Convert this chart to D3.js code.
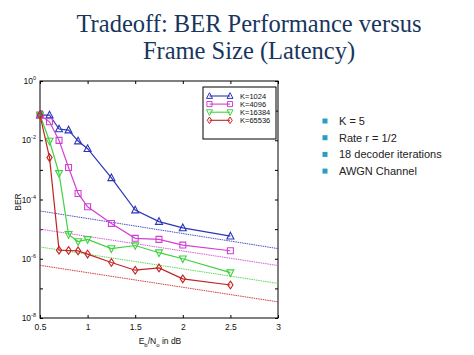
<!DOCTYPE html>
<html>
<head>
<meta charset="utf-8">
<script src="https://cdn.jsdelivr.net/npm/d3@7"></script>
<style>
  html, body { margin: 0; padding: 0; background: #fff; }
  svg { display: block; }
</style>
</head>
<body>
<svg id="chart" width="474" height="355"></svg>
<script>
// ---- data ----
const titleLines = ["Tradeoff: BER Performance versus", "Frame Size (Latency)"];
const bullets = ["K = 5", "Rate r = 1/2", "18 decoder iterations", "AWGN Channel"];
const seriesNames = ["K=1024", "K=4096", "K=16384", "K=65536"];
const seriesColors = ["#2b36b8", "#d23fd2", "#3fd23f", "#c42222"];
const seriesMarkers = ["triUp", "square", "triDown", "diamond"];

const ebno = [0.5, 0.6, 0.7, 0.8, 0.9, 1.0, 1.25, 1.5, 1.75, 2.0, 2.5];
const berK1024  = [7.1e-2, 7.1e-2, 2.4e-2, 2.2e-2, 9.4e-3, 5.2e-3, 5.4e-4, 4.4e-5, 1.8e-5, 1.1e-5, 5.8e-6];
const berK4096  = [7.1e-2, 4.2e-2, 9.9e-3, 1.2e-3, 1.6e-4, 5.7e-5, 1.56e-5, 4.9e-6, 4.5e-6, 2.9e-6, 1.86e-6];
const berK16384 = [7.1e-2, 9.4e-3, 7.6e-4, 6.6e-6, 3.8e-6, 4.5e-6, 2.2e-6, 2.8e-6, 1.6e-6, 1.0e-6, 3.4e-7];
const berK65536 = [7.1e-2, 2.6e-3, 1.95e-6, 1.9e-6, 1.85e-6, 1.44e-6, 7.5e-7, 4.1e-7, 4.9e-7, 2.1e-7, 1.3e-7];
const seriesValues = [berK1024, berK4096, berK16384, berK65536];

// error-floor bound lines (value at Eb/No = 0.5 and at 3)
const boundX = [0.5, 3];
const boundStart = [4.1e-5, 1.0e-5, 2.5e-6, 6.0e-7];
const boundEnd   = [2.2e-6, 5.9e-7, 1.47e-7, 3.5e-8];

const xTicks = [0.5, 1, 1.5, 2, 2.5, 3];
const xTickLabels = ["0.5", "1", "1.5", "2", "2.5", "3"];
const yTicks = [1, 1e-1, 1e-2, 1e-3, 1e-4, 1e-5, 1e-6, 1e-7, 1e-8];
const yLabelExps = [0, -2, -4, -6, -8];

// ---- drawing ----
const svg = d3.select("#chart");
const x = d3.scaleLinear().domain([0.5, 3]).range([40, 278]);
const y = d3.scaleLog().domain([1e-8, 1]).range([318, 81]);

// title
svg.append("g").selectAll("text").data(titleLines).join("text")
  .attr("x", 249).attr("y", (d, i) => 31.5 + i * 27.5)
  .attr("text-anchor", "middle")
  .attr("font-family", "'Liberation Serif', 'Times New Roman', serif")
  .attr("font-size", 24.5)
  .attr("fill", "#17365d")
  .text(d => d);

// bullets
const bg = svg.append("g");
bullets.forEach((b, i) => {
  const cy = 121 + i * 16.7;
  bg.append("rect").attr("x", 322.5).attr("y", cy - 2.5).attr("width", 5).attr("height", 5).attr("fill", "#2a9dc4");
  bg.append("text").attr("x", 339).attr("y", cy + 4)
    .attr("font-family", "'Liberation Sans', Arial, sans-serif")
    .attr("font-size", 11).attr("fill", "#222").text(b);
});

// frame
svg.append("rect").attr("x", 40).attr("y", 81).attr("width", 238).attr("height", 237)
  .attr("fill", "none").attr("stroke", "#000").attr("stroke-width", 1);

const tickFont = "'Liberation Sans', Arial, sans-serif";

// x axes (bottom with labels, top without)
svg.append("g").attr("transform", "translate(0,318)")
  .call(d3.axisBottom(x).tickValues(xTicks).tickSize(-3).tickPadding(6)
    .tickFormat((d, i) => xTickLabels[i]))
  .call(g => g.select(".domain").remove())
  .call(g => g.selectAll("text").attr("font-family", tickFont).attr("font-size", 8.5).attr("fill", "#111"));
svg.append("g").attr("transform", "translate(0,81)")
  .call(d3.axisTop(x).tickValues(xTicks).tickSize(-3).tickFormat(""))
  .call(g => g.select(".domain").remove());

// y axes
svg.append("g").attr("transform", "translate(40,0)")
  .call(d3.axisLeft(y).tickValues(yTicks).tickSize(-3).tickPadding(4).tickFormat(""))
  .call(g => g.select(".domain").remove());
svg.append("g").attr("transform", "translate(278,0)")
  .call(d3.axisRight(y).tickValues(yTicks).tickSize(-3).tickFormat(""))
  .call(g => g.select(".domain").remove());

// y labels 10^n
const yl = svg.append("g");
yLabelExps.forEach(e => {
  const t = yl.append("text").attr("x", 36).attr("y", y(Math.pow(10, e)) + 3)
    .attr("text-anchor", "end").attr("font-family", tickFont).attr("font-size", 8.5).attr("fill", "#111");
  t.append("tspan").text("10");
  t.append("tspan").attr("dy", -4).attr("font-size", 5.5).text(String(e));
});

// axis titles
const xt = svg.append("text").attr("x", 160).attr("y", 344).attr("text-anchor", "middle")
  .attr("font-family", tickFont).attr("font-size", 8.5).attr("fill", "#111");
xt.append("tspan").text("E");
xt.append("tspan").attr("dy", 2.5).attr("font-size", 6).text("b");
xt.append("tspan").attr("dy", -2.5).text("/N");
xt.append("tspan").attr("dy", 2.5).attr("font-size", 6).text("o");
xt.append("tspan").attr("dy", -2.5).text(" in dB");

svg.append("text").attr("transform", "translate(21,202) rotate(-90)").attr("text-anchor", "middle")
  .attr("font-family", tickFont).attr("font-size", 8.5).attr("fill", "#111").text("BER");

// bound lines
const plot = svg.append("g");
seriesValues.forEach((_, i) => {
  plot.append("line")
    .attr("x1", x(boundX[0])).attr("y1", y(boundStart[i]))
    .attr("x2", x(boundX[1])).attr("y2", y(boundEnd[i]))
    .attr("stroke", seriesColors[i]).attr("stroke-width", 1)
    .attr("stroke-opacity", 0.85).attr("stroke-dasharray", "1.5,0.8");
});

// marker shapes
function markerPath(type, s) {
  const h = s / 2;
  switch (type) {
    case "triUp": return `M0,${-h * 1.1}L${h},${h * 0.8}L${-h},${h * 0.8}Z`;
    case "triDown": return `M0,${h * 1.1}L${h},${-h * 0.8}L${-h},${-h * 0.8}Z`;
    case "square": return `M${-h * 0.85},${-h * 0.85}H${h * 0.85}V${h * 0.85}H${-h * 0.85}Z`;
    case "diamond": return `M0,${-h * 1.1}L${h * 0.75},0L0,${h * 1.1}L${-h * 0.75},0Z`;
  }
}

const line = d3.line().x(d => x(d[0])).y(d => y(d[1]));
seriesValues.forEach((vals, i) => {
  const pts = ebno.map((e, j) => [e, vals[j]]);
  plot.append("path").datum(pts).attr("d", line)
    .attr("fill", "none").attr("stroke", seriesColors[i]).attr("stroke-width", 1.2);
  plot.append("g").selectAll("path").data(pts).join("path")
    .attr("transform", d => `translate(${x(d[0])},${y(d[1])})`)
    .attr("d", markerPath(seriesMarkers[i], 7))
    .attr("fill", "none").attr("stroke", seriesColors[i]).attr("stroke-width", 1.1);
});

// legend
const lg = svg.append("g");
lg.append("rect").attr("x", 203).attr("y", 87).attr("width", 73).attr("height", 52)
  .attr("fill", "#fff").attr("stroke", "#000").attr("stroke-width", 1);
seriesNames.forEach((n, i) => {
  const cy = 96 + i * 8.1;
  lg.append("line").attr("x1", 209.5).attr("x2", 230).attr("y1", cy).attr("y2", cy)
    .attr("stroke", seriesColors[i]).attr("stroke-width", 1.1);
  [209.5, 230].forEach(mx => {
    lg.append("path").attr("transform", `translate(${mx},${cy})`)
      .attr("d", markerPath(seriesMarkers[i], 6))
      .attr("fill", "none").attr("stroke", seriesColors[i]).attr("stroke-width", 1);
  });
  lg.append("text").attr("x", 240).attr("y", cy + 2.6)
    .attr("font-family", tickFont).attr("font-size", 7.5).attr("fill", "#111").text(n);
});
</script>
</body>
</html>
